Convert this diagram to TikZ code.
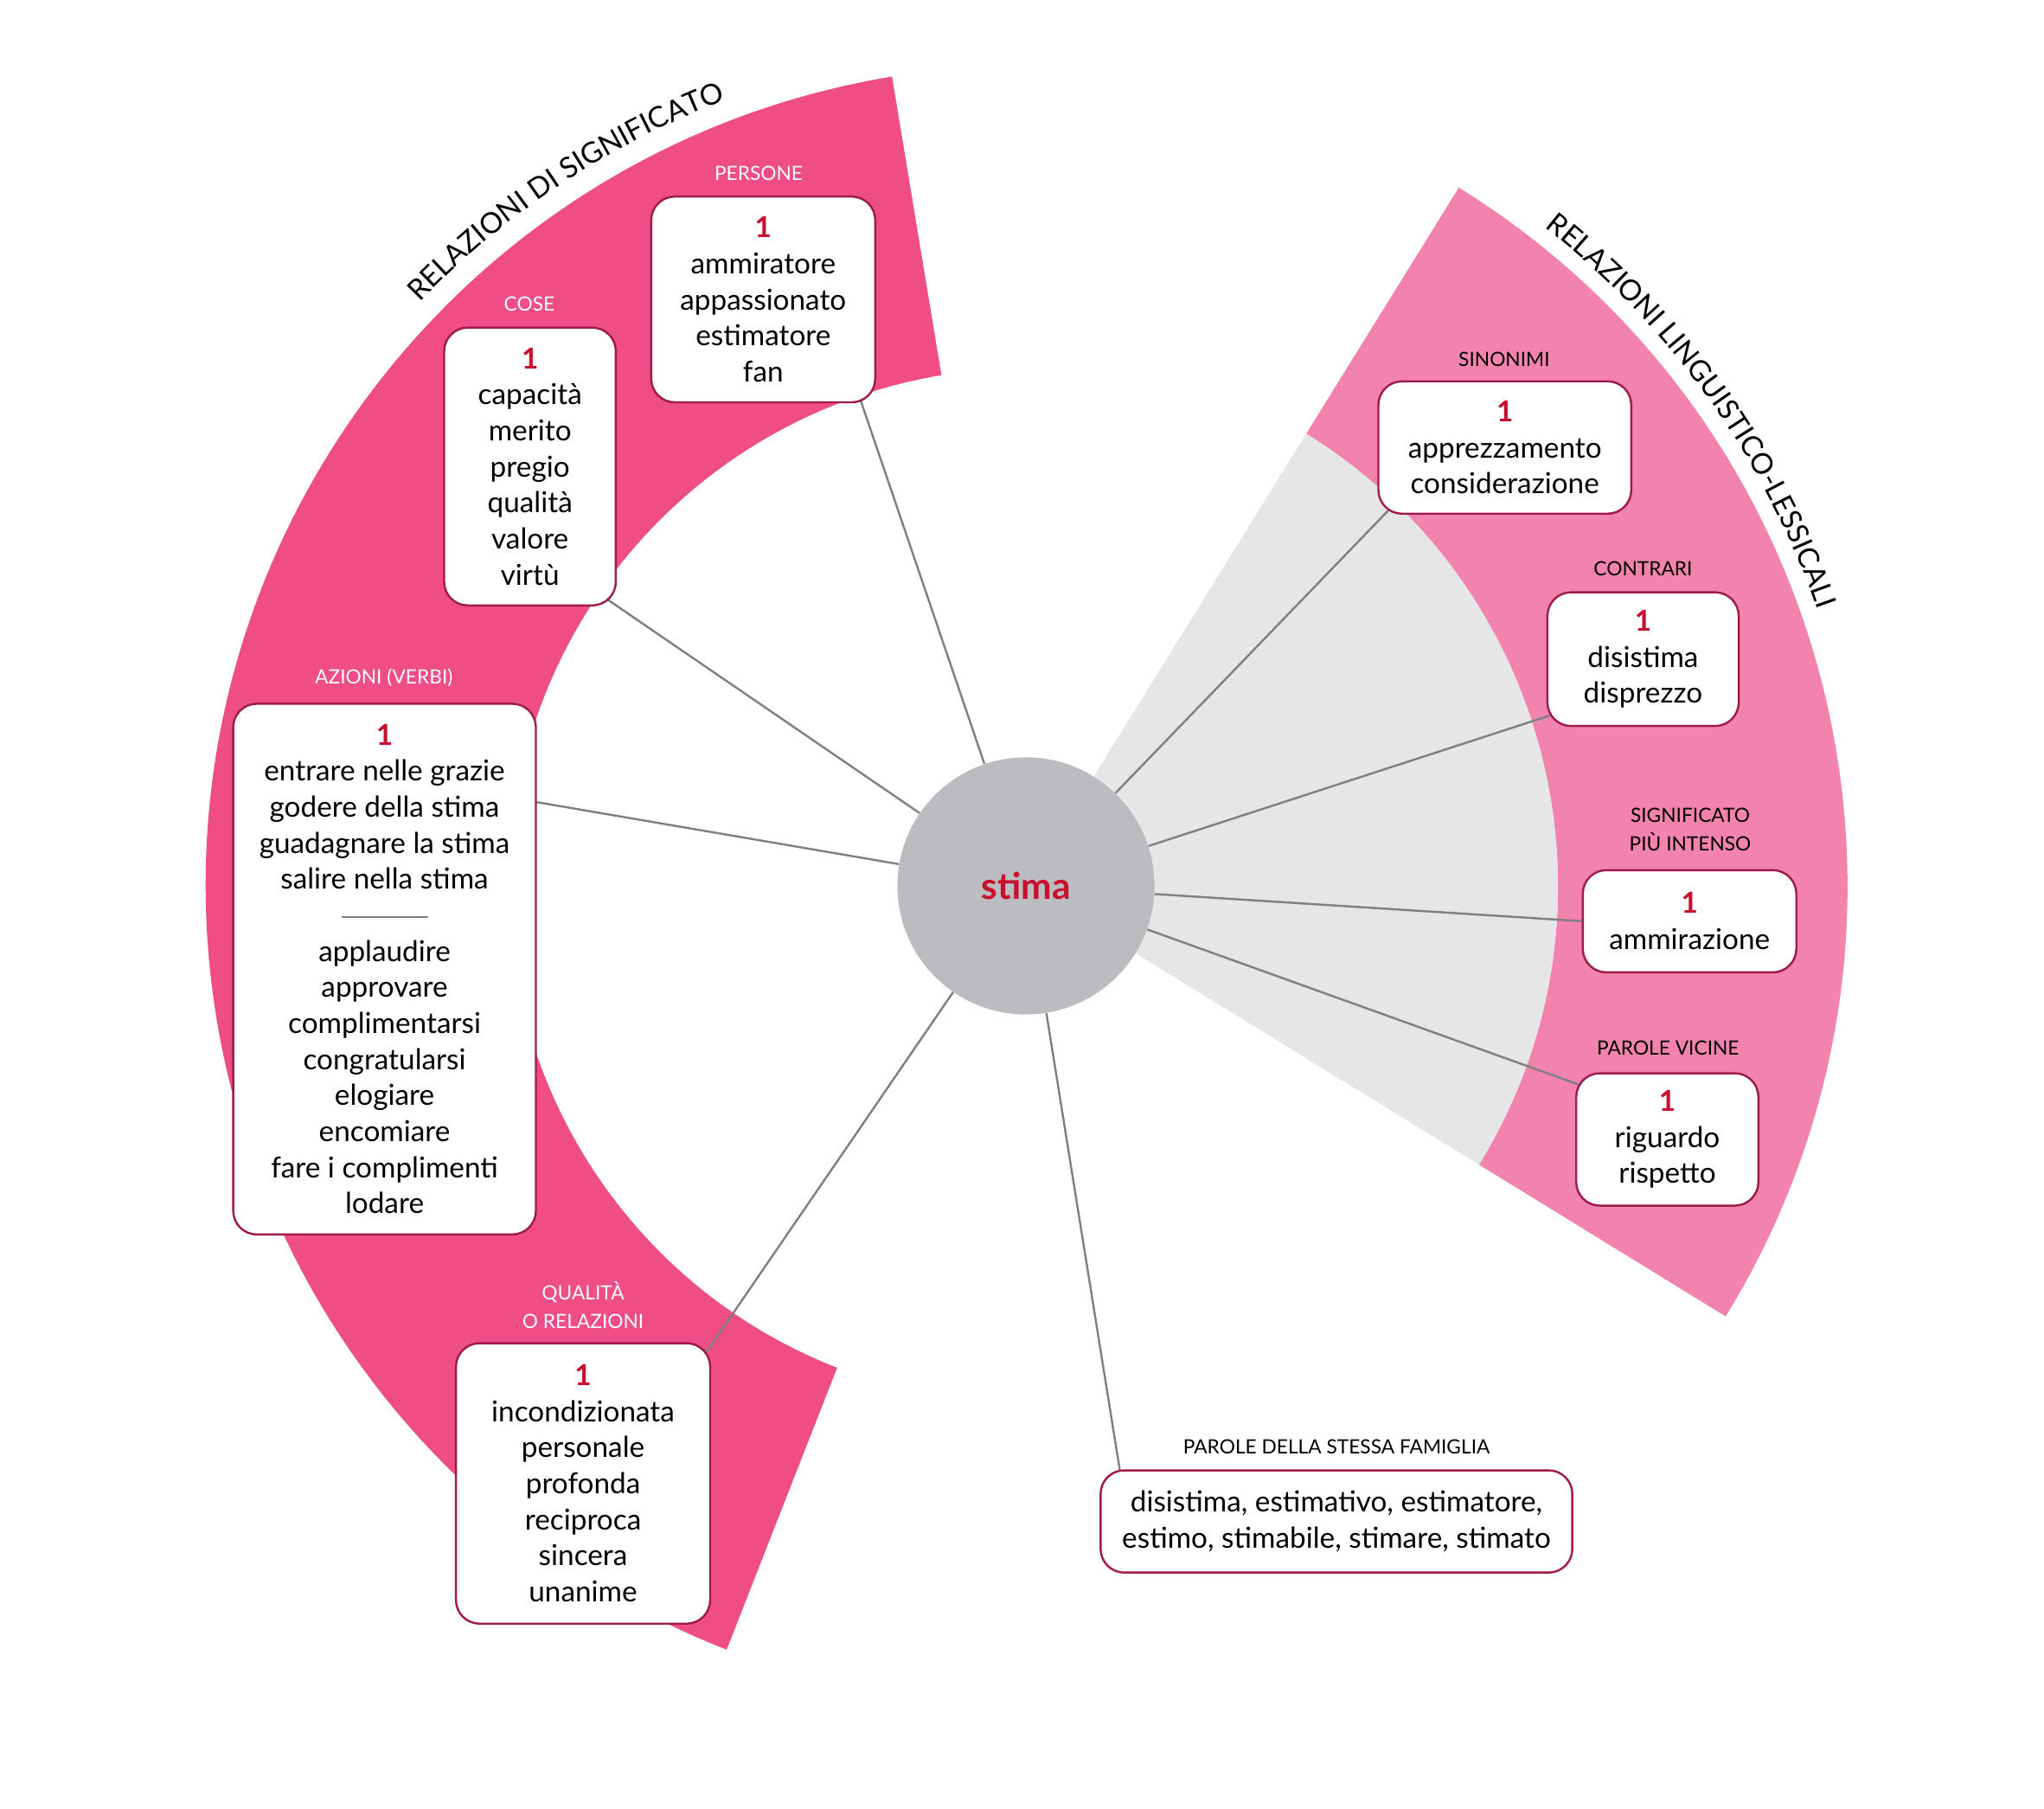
\documentclass[tikz,border=0pt]{standalone}
\usepackage{fontspec}
\setmainfont{Lato}
\usetikzlibrary{decorations.text}
\definecolor{dpink}{HTML}{EE4D85}
\definecolor{lpink}{HTML}{F283AC}
\definecolor{lgray}{HTML}{E6E6E6}
\definecolor{cgray}{HTML}{BBBCBF}
\definecolor{boxc}{HTML}{9E1B4B}
\definecolor{redn}{HTML}{C8102E}
\newcommand{\one}{\textcolor{redn}{\textbf{1}}}
\tikzset{
 box/.style={draw=boxc, line width=0.8pt, fill=white, rounded corners=9pt, align=center, inner sep=0pt, font=\fontsize{11}{13.75}\selectfont},
 lab/.style={align=center, font=\fontsize{7.5}{11}\selectfont, inner sep=0pt},
 wlab/.style={lab, text=white},
 conn/.style={draw=gray, line width=0.8pt},
}
\begin{document}
\begin{tikzpicture}[x=0.5pt,y=0.5pt]
\useasboundingbox (0,0) rectangle (1560,-1380);
\begin{scope}[shift={(783,-676)}]
\fill[dpink] (99.4:626) arc[start angle=99.4,end angle=248.6,radius=626] -- (248.6:395) arc[start angle=248.6,end angle=99.4,radius=395] -- cycle;
\fill[lpink] (58.2:627) arc[start angle=58.2,end angle=-31.6,radius=627] -- (-31.6:406) arc[start angle=-31.6,end angle=58.2,radius=406] -- cycle;
\fill[lgray] (58.2:406) arc[start angle=58.2,end angle=-31.6,radius=406] -- (0,0) -- cycle;
\path[decorate,decoration={text along path,text align=center,text={|\fontsize{11}{13}\selectfont|RELAZIONI DI SIGNIFICATO}}] (137:642) arc[start angle=137,end angle=110,radius=642];
\path[decorate,decoration={text along path,text align=center,text={|\fontsize{11}{13}\selectfont|RELAZIONI LINGUISTICO-LESSICALI}}] (53:640) arc[start angle=53,end angle=18,radius=640];
\end{scope}
% endpoints
\coordinate (ePer) at (656,-303);
\coordinate (eCos) at (460,-455);
\coordinate (eAz) at (409,-612);
\coordinate (eQu) at (537,-1035);
\coordinate (eFam) at (855,-1124);
\coordinate (eSin) at (1062,-387);
\coordinate (eCon) at (1186,-545);
\coordinate (eInt) at (1208,-703);
\coordinate (eVic) at (1206,-828);
\node[circle,fill=cgray,minimum size=98pt,inner sep=0pt] (c) at (783,-676) {};
\foreach \e in {ePer,eCos,eAz,eQu,eFam,eSin,eCon,eInt,eVic} \draw[conn] (c) -- (\e);
\node[circle,fill=cgray,minimum size=98pt,inner sep=0pt,font=\fontsize{14}{16}\selectfont\bfseries,text=redn] (c2) at (783,-676) {stima};
% boxes
\node[box,minimum width=85.5pt,minimum height=78.5pt] (per) at (582.5,-228.5) {\one\\ammiratore\\appassionato\\estimatore\\fan};
\node[wlab] (lper) at (579,-132) {PERSONE};
\node[box,minimum width=65.5pt,minimum height=106pt] (cos) at (404.5,-356) {\one\\capacità\\merito\\pregio\\qualità\\valore\\virtù};
\node[wlab] (lcos) at (404,-232) {COSE};
\node[box,minimum width=115.5pt,minimum height=202.5pt] (az) at (293.5,-739.5) {\one\\entrare nelle grazie\\godere della stima\\guadagnare la stima\\salire nella stima\\\textcolor{gray}{\rule[3pt]{33pt}{0.6pt}}\\applaudire\\approvare\\complimentarsi\\congratularsi\\elogiare\\encomiare\\fare i complimenti\\lodare};
\node[wlab] (laz) at (293,-517) {AZIONI (VERBI)};
\node[box,minimum width=97pt,minimum height=107pt] (qu) at (445,-1132) {\one\\incondizionata\\personale\\profonda\\reciproca\\sincera\\unanime};
\node[wlab] (lqu) at (445,-996) {QUALITÀ\\O RELAZIONI};
\node[box,minimum width=96.5pt,minimum height=50.5pt] (sin) at (1148.5,-341.5) {\one\\apprezzamento\\considerazione};
\node[lab] (lsin) at (1148,-274) {SINONIMI};
\node[box,minimum width=73pt,minimum height=51pt] (con) at (1254,-503) {\one\\disistima\\disprezzo};
\node[lab] (lcon) at (1254,-434) {CONTRARI};
\node[box,minimum width=81.5pt,minimum height=39pt] (int) at (1289.5,-703) {\one\\ammirazione};
\node[lab] (lint) at (1290,-633) {SIGNIFICATO\\PIÙ INTENSO};
\node[box,minimum width=69.5pt,minimum height=50.5pt] (vic) at (1272.5,-869.5) {\one\\riguardo\\rispetto};
\node[lab] (lvic) at (1273,-800) {PAROLE VICINE};
\node[box,minimum width=180pt,minimum height=39pt] (fam) at (1020,-1161) {disistima, estimativo, estimatore,\\estimo, stimabile, stimare, stimato};
\node[lab] (lfam) at (1020,-1104) {PAROLE DELLA STESSA FAMIGLIA};
\end{tikzpicture}
\end{document}
